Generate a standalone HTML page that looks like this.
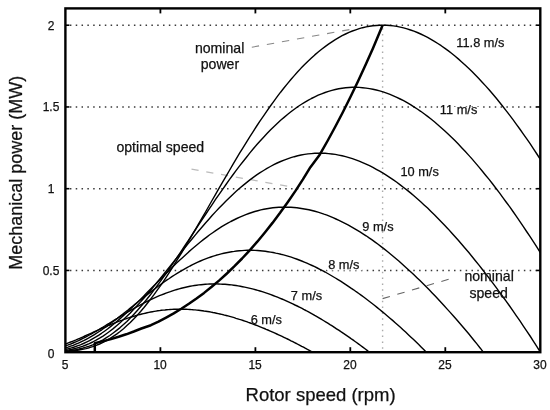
<!DOCTYPE html><html><head><meta charset="utf-8"><title>Wind turbine power curves</title>
<style>html,body{margin:0;padding:0;background:#fff}svg{display:block}text{font-family:"Liberation Sans",Arial,Helvetica,sans-serif;fill:#111;stroke:#111;stroke-width:0.25px}</style></head><body>
<svg width="550" height="410" viewBox="0 0 550 410">
<rect width="550" height="410" fill="#fff"/>
<line x1="69.9" y1="270.45" x2="538.3" y2="270.45" stroke="#3a3a3a" stroke-width="1.5" stroke-dasharray="1.5 4.32"/>
<line x1="69.9" y1="188.70" x2="538.3" y2="188.70" stroke="#3a3a3a" stroke-width="1.5" stroke-dasharray="1.5 4.32"/>
<line x1="69.9" y1="106.95" x2="538.3" y2="106.95" stroke="#3a3a3a" stroke-width="1.5" stroke-dasharray="1.5 4.32"/>
<line x1="69.9" y1="25.20" x2="538.3" y2="25.20" stroke="#3a3a3a" stroke-width="1.5" stroke-dasharray="1.5 4.32"/>
<line x1="382.6" y1="28.2" x2="382.6" y2="352.2" stroke="#aaa" stroke-width="1.4" stroke-dasharray="1.5 4.3"/>
<line x1="251.8" y1="47.2" x2="356" y2="28.4" stroke="#888" stroke-width="1.1" stroke-dasharray="7.4 7.9"/>
<line x1="191.5" y1="169.2" x2="290" y2="186.7" stroke="#bbb" stroke-width="1.3" stroke-dasharray="7.2 7.8"/>
<line x1="382.6" y1="298.6" x2="451" y2="278.6" stroke="#666" stroke-width="1.1" stroke-dasharray="7.6 7.7"/>
<clipPath id="c"><rect x="65.4" y="8.4" width="474.9" height="343.8"/></clipPath>
<g clip-path="url(#c)" fill="none" stroke="#000" stroke-width="1.4" stroke-linejoin="round">
<polyline points="65.4,344.1 67.2,343.4 69.0,342.7 70.7,342.0 72.5,341.3 74.3,340.6 76.1,339.9 77.8,339.1 79.6,338.4 81.4,337.6 83.2,336.8 84.9,336.0 86.7,335.2 88.5,334.4 90.3,333.6 92.0,332.8 93.8,332.0 95.6,331.2 97.4,330.4 99.2,329.6 100.9,328.8 102.7,328.0 104.5,327.3 106.3,326.5 108.0,325.7 109.8,325.0 111.6,324.2 113.4,323.5 115.1,322.8 116.9,322.1 118.7,321.4 120.5,320.7 122.3,320.1 124.0,319.4 125.8,318.8 127.6,318.2 129.4,317.6 131.1,317.0 132.9,316.5 134.7,316.0 136.5,315.4 138.2,314.9 140.0,314.5 141.8,314.0 143.6,313.6 145.3,313.2 147.1,312.8 148.9,312.4 150.7,312.0 152.5,311.7 154.2,311.4 156.0,311.1 157.8,310.8 159.6,310.6 161.3,310.3 163.1,310.1 164.9,310.0 166.7,309.8 168.4,309.6 170.2,309.5 172.0,309.4 173.8,309.3 175.5,309.3 177.3,309.2 179.1,309.2 180.9,309.2 182.7,309.2 184.4,309.3 186.2,309.3 188.0,309.4 189.8,309.5 191.5,309.6 193.3,309.8 195.1,309.9 196.9,310.1 198.6,310.3 200.4,310.5 202.2,310.7 204.0,311.0 205.8,311.2 207.5,311.5 209.3,311.8 211.1,312.1 212.9,312.5 214.6,312.8 216.4,313.2 218.2,313.6 220.0,314.0 221.7,314.4 223.5,314.8 225.3,315.3 227.1,315.7 228.8,316.2 230.6,316.7 232.4,317.2 234.2,317.7 236.0,318.3 237.7,318.8 239.5,319.4 241.3,319.9 243.1,320.5 244.8,321.1 246.6,321.7 248.4,322.4 250.2,323.0 251.9,323.7 253.7,324.3 255.5,325.0 257.3,325.7 259.0,326.4 260.8,327.1 262.6,327.8 264.4,328.5 266.2,329.3 267.9,330.0 269.7,330.8 271.5,331.6 273.3,332.4 275.0,333.2 276.8,334.0 278.6,334.8 280.4,335.6 282.1,336.4 283.9,337.3 285.7,338.2 287.5,339.0 289.3,339.9 291.0,340.8 292.8,341.7 294.6,342.6 296.4,343.5 298.1,344.4 299.9,345.3 301.7,346.3 303.5,347.2 305.2,348.2 307.0,349.2 308.8,350.1 310.6,351.2 312.3,352.2"/>
<polyline points="65.4,345.9 67.6,345.2 69.8,344.3 72.0,343.5 74.1,342.5 76.3,341.6 78.5,340.6 80.7,339.5 82.9,338.4 85.1,337.3 87.3,336.2 89.5,335.0 91.6,333.8 93.8,332.5 96.0,331.3 98.2,330.0 100.4,328.7 102.6,327.4 104.8,326.0 106.9,324.7 109.1,323.4 111.3,322.0 113.5,320.7 115.7,319.3 117.9,318.0 120.1,316.7 122.3,315.3 124.4,314.0 126.6,312.7 128.8,311.4 131.0,310.2 133.2,308.9 135.4,307.7 137.6,306.5 139.7,305.3 141.9,304.1 144.1,302.9 146.3,301.8 148.5,300.7 150.7,299.7 152.9,298.6 155.1,297.6 157.2,296.7 159.4,295.7 161.6,294.8 163.8,294.0 166.0,293.1 168.2,292.3 170.4,291.6 172.5,290.8 174.7,290.1 176.9,289.5 179.1,288.9 181.3,288.3 183.5,287.7 185.7,287.2 187.8,286.7 190.0,286.3 192.2,285.9 194.4,285.5 196.6,285.2 198.8,284.9 201.0,284.7 203.2,284.5 205.3,284.3 207.5,284.1 209.7,284.0 211.9,284.0 214.1,283.9 216.3,283.9 218.5,284.0 220.6,284.1 222.8,284.2 225.0,284.3 227.2,284.5 229.4,284.7 231.6,284.9 233.8,285.2 236.0,285.5 238.1,285.9 240.3,286.3 242.5,286.7 244.7,287.1 246.9,287.6 249.1,288.1 251.3,288.6 253.4,289.2 255.6,289.8 257.8,290.4 260.0,291.0 262.2,291.7 264.4,292.4 266.6,293.1 268.8,293.9 270.9,294.7 273.1,295.5 275.3,296.3 277.5,297.2 279.7,298.1 281.9,299.0 284.1,299.9 286.2,300.9 288.4,301.9 290.6,302.9 292.8,303.9 295.0,305.0 297.2,306.0 299.4,307.1 301.6,308.2 303.7,309.4 305.9,310.5 308.1,311.7 310.3,312.9 312.5,314.1 314.7,315.4 316.9,316.6 319.0,317.9 321.2,319.2 323.4,320.5 325.6,321.8 327.8,323.2 330.0,324.6 332.2,325.9 334.4,327.4 336.5,328.8 338.7,330.2 340.9,331.7 343.1,333.1 345.3,334.6 347.5,336.1 349.7,337.6 351.8,339.2 354.0,340.7 356.2,342.3 358.4,343.9 360.6,345.5 362.8,347.1 365.0,348.8 367.1,350.4 369.3,352.2"/>
<polyline points="65.4,347.8 68.0,347.1 70.6,346.2 73.2,345.3 75.8,344.2 78.4,343.1 81.0,341.9 83.6,340.7 86.2,339.3 88.8,337.9 91.4,336.4 94.0,334.8 96.6,333.2 99.2,331.5 101.8,329.8 104.3,328.0 106.9,326.1 109.5,324.2 112.1,322.3 114.7,320.4 117.3,318.4 119.9,316.3 122.5,314.3 125.1,312.2 127.7,310.2 130.3,308.1 132.9,306.0 135.5,303.9 138.1,301.8 140.7,299.7 143.3,297.7 145.9,295.6 148.5,293.6 151.1,291.6 153.7,289.6 156.3,287.7 158.9,285.8 161.5,283.9 164.1,282.0 166.7,280.2 169.3,278.5 171.9,276.7 174.5,275.0 177.1,273.4 179.6,271.8 182.2,270.3 184.8,268.8 187.4,267.4 190.0,266.0 192.6,264.7 195.2,263.4 197.8,262.2 200.4,261.0 203.0,259.9 205.6,258.9 208.2,257.9 210.8,257.0 213.4,256.1 216.0,255.3 218.6,254.6 221.2,253.9 223.8,253.3 226.4,252.7 229.0,252.2 231.6,251.7 234.2,251.4 236.8,251.0 239.4,250.8 242.0,250.6 244.6,250.4 247.2,250.3 249.8,250.3 252.4,250.3 255.0,250.4 257.5,250.5 260.1,250.7 262.7,251.0 265.3,251.3 267.9,251.7 270.5,252.1 273.1,252.5 275.7,253.1 278.3,253.6 280.9,254.3 283.5,254.9 286.1,255.6 288.7,256.4 291.3,257.2 293.9,258.1 296.5,259.0 299.1,260.0 301.7,261.0 304.3,262.1 306.9,263.2 309.5,264.3 312.1,265.5 314.7,266.7 317.3,268.0 319.9,269.3 322.5,270.7 325.1,272.0 327.7,273.5 330.3,275.0 332.8,276.5 335.4,278.0 338.0,279.6 340.6,281.2 343.2,282.9 345.8,284.6 348.4,286.3 351.0,288.1 353.6,289.8 356.2,291.7 358.8,293.5 361.4,295.4 364.0,297.3 366.6,299.3 369.2,301.3 371.8,303.3 374.4,305.3 377.0,307.4 379.6,309.5 382.2,311.6 384.8,313.8 387.4,316.0 390.0,318.2 392.6,320.4 395.2,322.7 397.8,325.0 400.4,327.3 403.0,329.7 405.6,332.0 408.1,334.4 410.7,336.9 413.3,339.3 415.9,341.8 418.5,344.3 421.1,346.9 423.7,349.5 426.3,352.2"/>
<polyline points="65.4,349.4 68.4,348.7 71.4,347.9 74.4,347.0 77.4,345.9 80.4,344.8 83.4,343.5 86.4,342.1 89.5,340.6 92.5,338.9 95.5,337.2 98.5,335.3 101.5,333.3 104.5,331.2 107.5,329.0 110.5,326.6 113.5,324.2 116.5,321.7 119.5,319.1 122.5,316.4 125.5,313.7 128.5,310.9 131.5,308.0 134.6,305.1 137.6,302.2 140.6,299.2 143.6,296.2 146.6,293.1 149.6,290.1 152.6,287.0 155.6,284.0 158.6,280.9 161.6,277.9 164.6,274.9 167.6,271.9 170.6,268.9 173.6,266.0 176.6,263.1 179.6,260.2 182.7,257.4 185.7,254.7 188.7,251.9 191.7,249.3 194.7,246.7 197.7,244.2 200.7,241.8 203.7,239.4 206.7,237.1 209.7,234.8 212.7,232.7 215.7,230.6 218.7,228.6 221.7,226.7 224.7,224.9 227.8,223.2 230.8,221.5 233.8,220.0 236.8,218.5 239.8,217.1 242.8,215.8 245.8,214.6 248.8,213.5 251.8,212.5 254.8,211.5 257.8,210.7 260.8,209.9 263.8,209.3 266.8,208.7 269.8,208.2 272.9,207.8 275.9,207.5 278.9,207.3 281.9,207.2 284.9,207.1 287.9,207.2 290.9,207.3 293.9,207.5 296.9,207.8 299.9,208.2 302.9,208.7 305.9,209.2 308.9,209.8 311.9,210.5 314.9,211.3 318.0,212.2 321.0,213.1 324.0,214.2 327.0,215.2 330.0,216.4 333.0,217.7 336.0,219.0 339.0,220.3 342.0,221.8 345.0,223.3 348.0,224.9 351.0,226.6 354.0,228.3 357.0,230.1 360.0,231.9 363.0,233.8 366.1,235.8 369.1,237.9 372.1,239.9 375.1,242.1 378.1,244.3 381.1,246.6 384.1,248.9 387.1,251.3 390.1,253.7 393.1,256.2 396.1,258.7 399.1,261.3 402.1,264.0 405.1,266.7 408.1,269.4 411.2,272.2 414.2,275.0 417.2,277.9 420.2,280.8 423.2,283.8 426.2,286.8 429.2,289.8 432.2,292.9 435.2,296.1 438.2,299.3 441.2,302.5 444.2,305.8 447.2,309.1 450.2,312.4 453.2,315.8 456.3,319.2 459.3,322.7 462.3,326.2 465.3,329.7 468.3,333.3 471.3,337.0 474.3,340.7 477.3,344.4 480.3,348.2 483.3,352.2"/>
<polyline points="65.4,350.5 68.8,349.9 72.2,349.2 75.6,348.4 79.1,347.4 82.5,346.3 85.9,345.0 89.3,343.6 92.7,342.0 96.1,340.2 99.6,338.2 103.0,336.1 106.4,333.7 109.8,331.2 113.2,328.6 116.6,325.7 120.1,322.7 123.5,319.6 126.9,316.3 130.3,312.9 133.7,309.3 137.1,305.7 140.6,301.9 144.0,298.0 147.4,294.0 150.8,290.0 154.2,285.9 157.6,281.7 161.1,277.5 164.5,273.3 167.9,269.0 171.3,264.7 174.7,260.4 178.1,256.2 181.6,251.9 185.0,247.6 188.4,243.4 191.8,239.2 195.2,235.1 198.6,231.0 202.1,227.0 205.5,223.0 208.9,219.2 212.3,215.3 215.7,211.6 219.1,208.0 222.6,204.4 226.0,201.0 229.4,197.7 232.8,194.4 236.2,191.3 239.6,188.3 243.1,185.4 246.5,182.6 249.9,179.9 253.3,177.4 256.7,174.9 260.1,172.6 263.6,170.5 267.0,168.4 270.4,166.5 273.8,164.7 277.2,163.0 280.6,161.5 284.1,160.1 287.5,158.8 290.9,157.7 294.3,156.7 297.7,155.8 301.1,155.0 304.6,154.4 308.0,153.9 311.4,153.6 314.8,153.3 318.2,153.2 321.6,153.2 325.1,153.3 328.5,153.6 331.9,154.0 335.3,154.4 338.7,155.1 342.1,155.8 345.6,156.6 349.0,157.6 352.4,158.7 355.8,159.9 359.2,161.2 362.6,162.6 366.1,164.1 369.5,165.7 372.9,167.4 376.3,169.3 379.7,171.2 383.1,173.2 386.6,175.4 390.0,177.6 393.4,179.9 396.8,182.3 400.2,184.9 403.6,187.5 407.1,190.1 410.5,192.9 413.9,195.8 417.3,198.8 420.7,201.8 424.1,204.9 427.6,208.1 431.0,211.4 434.4,214.7 437.8,218.2 441.2,221.7 444.6,225.3 448.1,228.9 451.5,232.7 454.9,236.5 458.3,240.3 461.7,244.3 465.1,248.3 468.6,252.3 472.0,256.5 475.4,260.7 478.8,264.9 482.2,269.3 485.6,273.6 489.1,278.1 492.5,282.6 495.9,287.2 499.3,291.8 502.7,296.5 506.1,301.2 509.6,306.0 513.0,310.8 516.4,315.8 519.8,320.7 523.2,325.8 526.6,330.9 530.1,336.0 533.5,341.3 536.9,346.6 540.3,352.2"/>
<polyline points="65.4,351.2 68.8,350.8 72.2,350.3 75.6,349.7 79.1,349.0 82.5,348.2 85.9,347.2 89.3,346.1 92.7,344.8 96.1,343.3 99.6,341.6 103.0,339.8 106.4,337.7 109.8,335.5 113.2,333.0 116.6,330.4 120.1,327.6 123.5,324.6 126.9,321.4 130.3,318.0 133.7,314.4 137.1,310.7 140.6,306.8 144.0,302.7 147.4,298.5 150.8,294.2 154.2,289.7 157.6,285.1 161.1,280.4 164.5,275.7 167.9,270.8 171.3,265.8 174.7,260.8 178.1,255.8 181.6,250.6 185.0,245.5 188.4,240.3 191.8,235.1 195.2,230.0 198.6,224.8 202.1,219.6 205.5,214.5 208.9,209.3 212.3,204.3 215.7,199.2 219.1,194.3 222.6,189.3 226.0,184.5 229.4,179.7 232.8,175.0 236.2,170.4 239.6,165.9 243.1,161.5 246.5,157.2 249.9,152.9 253.3,148.8 256.7,144.8 260.1,141.0 263.6,137.2 267.0,133.6 270.4,130.1 273.8,126.7 277.2,123.5 280.6,120.3 284.1,117.4 287.5,114.5 290.9,111.8 294.3,109.2 297.7,106.8 301.1,104.5 304.6,102.4 308.0,100.4 311.4,98.5 314.8,96.8 318.2,95.2 321.6,93.8 325.1,92.5 328.5,91.4 331.9,90.4 335.3,89.5 338.7,88.8 342.1,88.2 345.6,87.8 349.0,87.5 352.4,87.3 355.8,87.3 359.2,87.4 362.6,87.7 366.1,88.1 369.5,88.6 372.9,89.2 376.3,90.0 379.7,90.9 383.1,91.9 386.6,93.1 390.0,94.4 393.4,95.8 396.8,97.3 400.2,99.0 403.6,100.7 407.1,102.6 410.5,104.6 413.9,106.8 417.3,109.0 420.7,111.3 424.1,113.8 427.6,116.4 431.0,119.0 434.4,121.8 437.8,124.7 441.2,127.7 444.6,130.8 448.1,134.0 451.5,137.2 454.9,140.6 458.3,144.1 461.7,147.7 465.1,151.3 468.6,155.1 472.0,158.9 475.4,162.9 478.8,166.9 482.2,171.0 485.6,175.2 489.1,179.4 492.5,183.8 495.9,188.2 499.3,192.7 502.7,197.3 506.1,202.0 509.6,206.7 513.0,211.5 516.4,216.4 519.8,221.4 523.2,226.4 526.6,231.5 530.1,236.7 533.5,241.9 536.9,247.2 540.3,252.6"/>
<polyline points="65.4,351.5 68.8,351.3 72.2,350.9 75.6,350.5 79.1,350.0 82.5,349.3 85.9,348.6 89.3,347.7 92.7,346.6 96.1,345.4 99.6,344.0 103.0,342.4 106.4,340.6 109.8,338.6 113.2,336.4 116.6,334.1 120.1,331.5 123.5,328.7 126.9,325.6 130.3,322.4 133.7,319.0 137.1,315.4 140.6,311.5 144.0,307.5 147.4,303.3 150.8,298.9 154.2,294.4 157.6,289.6 161.1,284.8 164.5,279.8 167.9,274.6 171.3,269.3 174.7,263.9 178.1,258.4 181.6,252.8 185.0,247.2 188.4,241.4 191.8,235.6 195.2,229.8 198.6,223.8 202.1,217.9 205.5,212.0 208.9,206.0 212.3,200.0 215.7,194.1 219.1,188.1 222.6,182.2 226.0,176.3 229.4,170.5 232.8,164.7 236.2,158.9 239.6,153.2 243.1,147.6 246.5,142.1 249.9,136.6 253.3,131.3 256.7,126.0 260.1,120.8 263.6,115.8 267.0,110.8 270.4,106.0 273.8,101.3 277.2,96.7 280.6,92.2 284.1,87.8 287.5,83.6 290.9,79.5 294.3,75.6 297.7,71.8 301.1,68.1 304.6,64.6 308.0,61.2 311.4,58.0 314.8,54.9 318.2,52.0 321.6,49.2 325.1,46.6 328.5,44.1 331.9,41.8 335.3,39.6 338.7,37.6 342.1,35.7 345.6,34.0 349.0,32.4 352.4,31.0 355.8,29.8 359.2,28.7 362.6,27.7 366.1,26.9 369.5,26.3 372.9,25.8 376.3,25.5 379.7,25.3 383.1,25.2 386.6,25.3 390.0,25.5 393.4,25.9 396.8,26.4 400.2,27.1 403.6,27.9 407.1,28.9 410.5,30.0 413.9,31.2 417.3,32.5 420.7,34.0 424.1,35.7 427.6,37.4 431.0,39.3 434.4,41.3 437.8,43.5 441.2,45.7 444.6,48.1 448.1,50.6 451.5,53.3 454.9,56.0 458.3,58.9 461.7,61.9 465.1,65.0 468.6,68.2 472.0,71.5 475.4,75.0 478.8,78.5 482.2,82.2 485.6,85.9 489.1,89.8 492.5,93.8 495.9,97.8 499.3,102.0 502.7,106.3 506.1,110.6 509.6,115.1 513.0,119.6 516.4,124.3 519.8,129.0 523.2,133.8 526.6,138.7 530.1,143.7 533.5,148.8 536.9,154.0 540.3,159.3"/>
</g>
<polyline points="94.8,352.2 94.8,343.2 95.8,342.9 103.4,341.1 111.0,339.1 118.6,336.8 126.2,334.3 133.8,331.5 141.4,328.5 150.9,325.2 158.5,321.6 166.1,317.6 173.7,313.4 181.3,308.8 188.9,303.8 196.5,298.5 204.1,292.9 211.7,286.8 219.3,280.4 226.9,273.5 234.5,266.2 242.1,258.5 249.7,250.3 257.3,241.7 264.9,232.5 272.5,222.9 280.1,212.8 287.7,202.2 295.3,191.1 302.9,179.4 310.4,167.2 319.9,154.4 327.5,141.0 335.1,127.0 342.7,112.5 350.3,97.3 357.9,81.5 365.5,65.0 373.1,47.9 382.6,25.2" fill="none" stroke="#000" stroke-width="2.5" stroke-linejoin="round"/>
<rect x="65.4" y="8.4" width="474.9" height="343.8" fill="none" stroke="#000" stroke-width="2.4"/>
<line x1="160.4" y1="352.2" x2="160.4" y2="347.2" stroke="#000" stroke-width="1.8"/>
<line x1="160.4" y1="8.4" x2="160.4" y2="13.4" stroke="#000" stroke-width="1.8"/>
<line x1="255.4" y1="352.2" x2="255.4" y2="347.2" stroke="#000" stroke-width="1.8"/>
<line x1="255.4" y1="8.4" x2="255.4" y2="13.4" stroke="#000" stroke-width="1.8"/>
<line x1="350.3" y1="352.2" x2="350.3" y2="347.2" stroke="#000" stroke-width="1.8"/>
<line x1="350.3" y1="8.4" x2="350.3" y2="13.4" stroke="#000" stroke-width="1.8"/>
<line x1="445.3" y1="352.2" x2="445.3" y2="347.2" stroke="#000" stroke-width="1.8"/>
<line x1="445.3" y1="8.4" x2="445.3" y2="13.4" stroke="#000" stroke-width="1.8"/>
<line x1="65.4" y1="270.45" x2="69.4" y2="270.45" stroke="#000" stroke-width="1.6"/>
<line x1="540.3" y1="270.45" x2="536.3" y2="270.45" stroke="#000" stroke-width="1.6"/>
<line x1="65.4" y1="188.70" x2="69.4" y2="188.70" stroke="#000" stroke-width="1.6"/>
<line x1="540.3" y1="188.70" x2="536.3" y2="188.70" stroke="#000" stroke-width="1.6"/>
<line x1="65.4" y1="106.95" x2="69.4" y2="106.95" stroke="#000" stroke-width="1.6"/>
<line x1="540.3" y1="106.95" x2="536.3" y2="106.95" stroke="#000" stroke-width="1.6"/>
<line x1="65.4" y1="25.20" x2="69.4" y2="25.20" stroke="#000" stroke-width="1.6"/>
<line x1="540.3" y1="25.20" x2="536.3" y2="25.20" stroke="#000" stroke-width="1.6"/>
<text x="65.1" y="368.6" font-size="12" text-anchor="middle">5</text>
<text x="160.1" y="368.6" font-size="12" text-anchor="middle">10</text>
<text x="255.1" y="368.6" font-size="12" text-anchor="middle">15</text>
<text x="350.0" y="368.6" font-size="12" text-anchor="middle">20</text>
<text x="445.0" y="368.6" font-size="12" text-anchor="middle">25</text>
<text x="540.0" y="368.6" font-size="12" text-anchor="middle">30</text>
<text x="51" y="357.9" font-size="12" text-anchor="middle">0</text>
<text x="51" y="274.8" font-size="12" text-anchor="middle">0.5</text>
<text x="51" y="193.0" font-size="12" text-anchor="middle">1</text>
<text x="51" y="111.2" font-size="12" text-anchor="middle">1.5</text>
<text x="51" y="29.5" font-size="12" text-anchor="middle">2</text>
<text x="320.6" y="401.4" font-size="18.5" text-anchor="middle">Rotor speed (rpm)</text>
<text transform="translate(22.3,172.7) rotate(-90)" font-size="18" text-anchor="middle">Mechanical power (MW)</text>
<text x="480.4" y="46.5" font-size="12.8" text-anchor="middle">11.8 m/s</text>
<rect x="438.5" y="106.9" width="41.2" height="9.1" fill="#fff"/>
<text x="458.6" y="114.0" font-size="12.8" text-anchor="middle">11 m/s</text>
<text x="419.6" y="175.8" font-size="12.8" text-anchor="middle">10 m/s</text>
<text x="377.9" y="230.7" font-size="12.8" text-anchor="middle">9 m/s</text>
<rect x="326.7" y="258.0" width="35.2" height="12.4" fill="#fff"/>
<text x="343.8" y="269.3" font-size="12.8" text-anchor="middle">8 m/s</text>
<text x="306.5" y="300.3" font-size="12.8" text-anchor="middle">7 m/s</text>
<text x="266.3" y="323.5" font-size="12.8" text-anchor="middle">6 m/s</text>
<text x="219.6" y="52.5" font-size="14.1" text-anchor="middle">nominal</text>
<text x="219.9" y="69.3" font-size="14.1" text-anchor="middle">power</text>
<text x="160.3" y="152.0" font-size="14.1" text-anchor="middle">optimal speed</text>
<text x="489.1" y="281.0" font-size="14.1" text-anchor="middle">nominal</text>
<text x="488.7" y="298.0" font-size="14.1" text-anchor="middle">speed</text>
</svg></body></html>
